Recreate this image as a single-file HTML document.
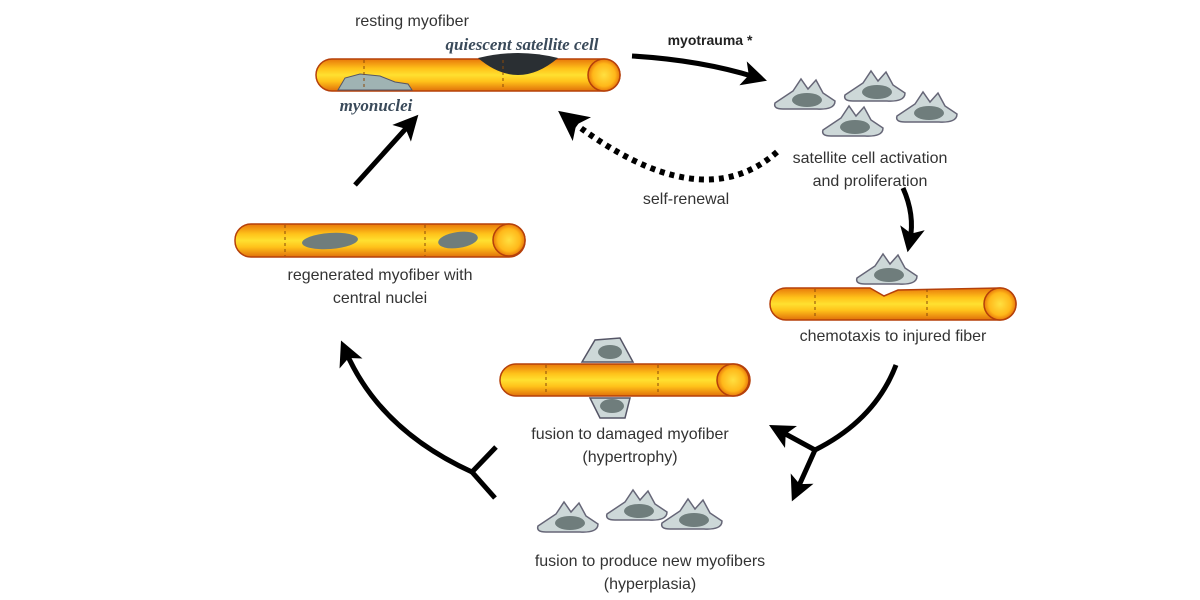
<!DOCTYPE html>
<html><head><meta charset="utf-8"><style>
html,body{margin:0;padding:0;background:#fff;}
svg{display:block;}
text{font-family:"Liberation Sans",sans-serif;font-size:16px;fill:#333;}
.it{font-family:"Liberation Serif",serif;font-style:italic;font-weight:bold;fill:#3a4a5a;font-size:17px;}
</style></head><body>
<svg width="1200" height="600" viewBox="0 0 1200 600" xmlns="http://www.w3.org/2000/svg">
<defs>
<linearGradient id="fg" x1="0" y1="0" x2="0" y2="1">
<stop offset="0" stop-color="#e8780a"/><stop offset="0.3" stop-color="#ffc21a"/><stop offset="0.5" stop-color="#ffe030"/><stop offset="0.7" stop-color="#ffc21a"/><stop offset="1" stop-color="#e0700a"/>
</linearGradient>
<radialGradient id="cg"><stop offset="0" stop-color="#ffe040"/><stop offset="0.7" stop-color="#ffb81a"/><stop offset="1" stop-color="#e8780a"/></radialGradient>
<g id="cell">
<path d="M-30,8 L-12,-4 L-4,-16 L3,-6 L11,-15 L18,-2 L30,6 Q30,15 12,14 L-22,14 Q-32,14 -30,8 Z" fill="#cdd8d8" stroke="#667" stroke-width="1.5"/>
<ellipse cx="2" cy="5" rx="15" ry="7" fill="#6f7d7c"/>
</g>
<marker id="ah" markerWidth="5" markerHeight="5" refX="2.5" refY="2.5" orient="auto" markerUnits="strokeWidth"><path d="M0,0 L5,2.5 L0,5 L1.2,2.5 Z" fill="#000"/></marker>
</defs>

<!-- resting fiber -->
<rect x="316" y="59" width="304" height="32" rx="16" fill="url(#fg)" stroke="#b5400a" stroke-width="1.5"/>
<path d="M478,58 Q518,92 558,58 Q518,48 478,58 Z" fill="#2a2f33"/>
<path d="M338,90 L345,78 L360,74 L380,76 L395,82 L408,84 L412,90 Z" fill="#9fb3b3" stroke="#556" />
<circle cx="604" cy="75" r="16" fill="url(#cg)" stroke="#b5400a" stroke-width="1.5"/>
<line x1="364" y1="60" x2="364" y2="90" stroke="#8a4a0a" stroke-dasharray="3,3"/>
<line x1="503" y1="60" x2="503" y2="90" stroke="#8a4a0a" stroke-dasharray="3,3"/>
<text x="412" y="26" text-anchor="middle">resting myofiber</text>
<text x="522" y="50" text-anchor="middle" class="it">quiescent satellite cell</text>
<text x="376" y="111" text-anchor="middle" class="it">myonuclei</text>

<!-- regenerated fiber -->
<rect x="235" y="224" width="290" height="33" rx="16" fill="url(#fg)" stroke="#b5400a" stroke-width="1.5"/>
<circle cx="509" cy="240" r="16" fill="url(#cg)" stroke="#b5400a" stroke-width="1.5"/>
<line x1="285" y1="225" x2="285" y2="256" stroke="#8a4a0a" stroke-dasharray="3,3"/>
<line x1="425" y1="225" x2="425" y2="256" stroke="#8a4a0a" stroke-dasharray="3,3"/>
<ellipse cx="330" cy="241" rx="28" ry="8" fill="#6f7d7c" transform="rotate(-4 330 241)"/>
<ellipse cx="458" cy="240" rx="20" ry="8" fill="#6f7d7c" transform="rotate(-8 458 240)"/>
<text x="380" y="280" text-anchor="middle">regenerated myofiber with</text>
<text x="380" y="303" text-anchor="middle">central nuclei</text>

<!-- chemotaxis fiber -->
<use href="#cell" x="887" y="270"/>
<path d="M786,288 L870,288 L884,296 L898,290 L1000,288 A16,16 0 0 1 1000,320 L786,320 A16,16 0 0 1 786,288 Z" fill="url(#fg)" stroke="#b5400a" stroke-width="1.5"/>
<circle cx="1000" cy="304" r="16" fill="url(#cg)" stroke="#b5400a" stroke-width="1.5"/>
<line x1="815" y1="289" x2="815" y2="319" stroke="#8a4a0a" stroke-dasharray="3,3"/>
<line x1="927" y1="289" x2="927" y2="319" stroke="#8a4a0a" stroke-dasharray="3,3"/>
<text x="893" y="341" text-anchor="middle">chemotaxis to injured fiber</text>

<!-- damaged fiber -->
<path d="M582,362 L595,340 L620,338 L633,362 Z M590,398 L600,418 L625,418 L630,398 Z" fill="#cdd8d8" stroke="#556" stroke-width="1.5"/>
<ellipse cx="610" cy="352" rx="12" ry="7" fill="#6f7d7c"/>
<ellipse cx="612" cy="406" rx="12" ry="7" fill="#6f7d7c"/>
<rect x="500" y="364" width="250" height="32" rx="16" fill="url(#fg)" stroke="#b5400a" stroke-width="1.5"/>
<circle cx="733" cy="380" r="16" fill="url(#cg)" stroke="#b5400a" stroke-width="1.5"/>
<line x1="546" y1="365" x2="546" y2="395" stroke="#8a4a0a" stroke-dasharray="3,3"/>
<line x1="658" y1="365" x2="658" y2="395" stroke="#8a4a0a" stroke-dasharray="3,3"/>
<text x="630" y="439" text-anchor="middle">fusion to damaged myofiber</text>
<text x="630" y="462" text-anchor="middle">(hypertrophy)</text>

<!-- cells -->
<use href="#cell" x="805" y="95"/>
<use href="#cell" x="875" y="87"/>
<use href="#cell" x="927" y="108"/>
<use href="#cell" x="853" y="122"/>
<use href="#cell" x="568" y="518"/>
<use href="#cell" x="637" y="506"/>
<use href="#cell" x="692" y="515"/>

<text x="870" y="163" text-anchor="middle">satellite cell activation</text>
<text x="870" y="186" text-anchor="middle">and proliferation</text>
<text x="686" y="204" text-anchor="middle">self-renewal</text>
<text x="710" y="45" text-anchor="middle" style="font-weight:bold;font-size:14px;fill:#222">myotrauma *</text>
<text x="650" y="566" text-anchor="middle">fusion to produce new myofibers</text>
<text x="650" y="589" text-anchor="middle">(hyperplasia)</text>

<!-- arrows -->
<g fill="none" stroke="#000" stroke-width="5">
<path d="M632,56 Q700,60 755,77" marker-end="url(#ah)"/>
<path d="M777,152 Q700,220 570,120" stroke-dasharray="5,5" stroke-width="6" marker-end="url(#ah)"/>
<path d="M355,185 L410,124" marker-end="url(#ah)"/>
<path d="M903,188 Q915,215 910,240" marker-end="url(#ah)"/>
<path d="M896,365 Q875,420 815,450"/>
<path d="M815,450 L780,431" marker-end="url(#ah)"/>
<path d="M815,450 L797,490" marker-end="url(#ah)"/>
<path d="M472,472 Q380,430 346,352" marker-end="url(#ah)"/>
<path d="M472,472 L496,447"/>
<path d="M472,472 L495,498"/>
</g>
</svg>
</body></html>
